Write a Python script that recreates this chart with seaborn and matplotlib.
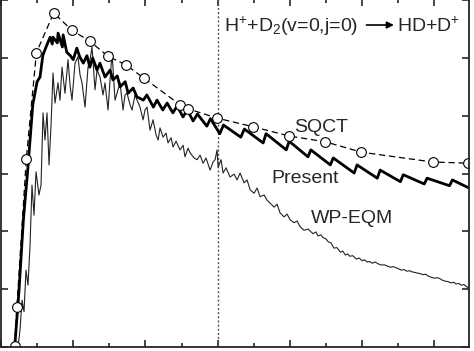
import numpy as np
import pandas as pd
import matplotlib
matplotlib.use("Agg")
import matplotlib.pyplot as plt
import seaborn as sns
from matplotlib.ticker import MultipleLocator

# SQCT points (open circles, dashed)
sqct_x = [0.19, 0.22, 0.35, 0.49, 0.73, 0.98, 1.23, 1.48, 1.73, 1.98, 2.48, 2.59,
          2.99, 3.49, 3.99, 4.49, 4.99, 5.98, 6.47]
sqct_y = [0.02, 0.69, 3.25, 5.09, 5.78, 5.48, 5.29, 5.03, 4.88, 4.65, 4.19, 4.12,
          3.96, 3.81, 3.65, 3.55, 3.37, 3.20, 3.18]

# present calculation (thick line)
present_x = [0.19, 0.25, 0.31, 0.37, 0.44, 0.50, 0.54, 0.58, 0.64, 0.68, 0.71, 0.72,
             0.78, 0.79, 0.85, 0.86, 0.91, 0.96, 1.00, 1.05, 1.09, 1.14, 1.19, 1.23,
             1.27, 1.33, 1.37, 1.44, 1.51, 1.55, 1.61, 1.65, 1.72, 1.76, 1.83, 1.88,
             1.97, 2.02, 2.11, 2.16, 2.24, 2.30, 2.38, 2.44, 2.52, 2.58, 2.66, 2.72,
             2.85, 2.90, 3.03, 3.08, 3.32, 3.37, 3.63, 3.67, 3.95, 3.99, 4.25, 4.29,
             4.56, 4.60, 4.89, 4.93, 5.21, 5.25, 5.53, 5.57, 5.86, 5.90, 6.21, 6.25,
             6.48]
present_y = [0.00, 0.99, 2.20, 3.06, 4.19, 4.59, 4.67, 5.05, 5.24, 5.36, 5.24, 5.36,
             5.26, 5.43, 5.19, 5.40, 5.10, 5.04, 4.97, 5.17, 5.02, 4.91, 5.04, 4.84,
             5.00, 4.79, 4.91, 4.67, 4.79, 4.62, 4.69, 4.50, 4.59, 4.39, 4.48, 4.33,
             4.27, 4.36, 4.15, 4.27, 4.10, 4.22, 4.05, 4.17, 3.98, 4.10, 3.91, 4.03,
             3.82, 3.95, 3.69, 3.84, 3.63, 3.77, 3.53, 3.69, 3.41, 3.56, 3.29, 3.41,
             3.15, 3.27, 3.01, 3.15, 2.92, 3.06, 2.86, 2.98, 2.82, 2.92, 2.79, 2.89,
             2.75]

# WP-EQM (thin noisy line)
wp_x = [0.235, 0.263, 0.291, 0.319, 0.346, 0.374, 0.402, 0.429, 0.457, 0.485, 0.526,
        0.554, 0.582, 0.609, 0.637, 0.665, 0.693, 0.720, 0.748, 0.789, 0.817, 0.845,
        0.886, 0.928, 0.956, 0.983, 1.025, 1.066, 1.094, 1.122, 1.163, 1.205, 1.233,
        1.260, 1.302, 1.330, 1.371, 1.413, 1.440, 1.482, 1.510, 1.537, 1.579, 1.620,
        1.648, 1.690, 1.717, 1.745, 1.787, 1.814, 1.856, 1.884, 1.925, 1.967, 1.994,
        2.022, 2.064, 2.105, 2.147, 2.175, 2.202, 2.244, 2.285, 2.313, 2.355, 2.382,
        2.424, 2.479, 2.521, 2.548, 2.590, 2.618, 2.673, 2.715, 2.756, 2.798, 2.839,
        2.895, 2.936, 2.964, 2.992, 3.006, 3.047, 3.075, 3.116, 3.172, 3.227, 3.269,
        3.310, 3.366, 3.407, 3.449, 3.504, 3.546, 3.587, 3.643, 3.684, 3.726, 3.781,
        3.823, 3.864, 3.920, 3.961, 4.003, 4.058, 4.100, 4.141, 4.197, 4.252, 4.32,
        4.36, 4.39, 4.43, 4.46, 4.50, 4.53, 4.57, 4.61, 4.65, 4.70, 4.73, 4.77, 4.80,
        4.83, 4.87, 4.92, 4.96, 5.00, 5.03, 5.07, 5.10, 5.14, 5.18, 5.22, 5.26, 5.31,
        5.35, 5.39, 5.43, 5.47, 5.51, 5.54, 5.58, 5.62, 5.66, 5.69, 5.73, 5.76, 5.80,
        5.85, 5.88, 5.91, 5.95, 6.00, 6.04, 6.08, 6.12, 6.15, 6.19, 6.23, 6.27, 6.30,
        6.34, 6.37, 6.41, 6.45, 6.48]
wp_y = [0.00, 0.29, 0.81, 0.61, 1.33, 1.07, 1.76, 2.80, 2.28, 3.03, 2.63,
        2.80, 4.05, 3.58, 4.05, 3.15, 3.84, 4.74, 4.22, 4.57, 4.27, 4.84,
        4.39, 4.97, 4.53, 4.27, 4.91, 5.02, 4.71, 4.57, 4.15, 4.84, 4.97,
        5.19, 4.45, 4.79, 4.67, 4.36, 4.57, 4.10, 4.62, 5.09, 4.27, 4.45,
        4.57, 4.10, 4.36, 4.39, 4.19, 4.10, 4.36, 4.27, 4.15, 3.93, 4.10,
        4.15, 3.75, 3.93, 3.67, 3.58, 3.79, 3.63, 3.70, 3.53, 3.62, 3.46,
        3.56, 3.41, 3.49, 3.29, 3.44, 3.36, 3.27, 3.24, 3.32, 3.18, 3.27,
        3.06, 3.20, 3.24, 3.41, 3.11, 3.24, 3.01, 3.10, 2.94, 2.99, 2.89,
        3.01, 2.84, 2.89, 2.72, 2.66, 2.75, 2.60, 2.63, 2.54, 2.49, 2.42,
        2.47, 2.32, 2.25, 2.30, 2.20, 2.15, 2.18, 2.08, 2.02, 2.04, 1.96,
        1.99, 1.92, 1.94, 1.89, 1.87, 1.82, 1.80, 1.71, 1.72, 1.64, 1.66, 1.59, 1.61,
        1.57, 1.58, 1.52, 1.54, 1.49, 1.51, 1.47, 1.48, 1.45, 1.47, 1.44, 1.42, 1.42,
        1.40, 1.38, 1.39, 1.37, 1.35, 1.33, 1.34, 1.31, 1.32, 1.30, 1.29, 1.28, 1.27,
        1.25, 1.26, 1.23, 1.21, 1.19, 1.20, 1.18, 1.15, 1.14, 1.13, 1.11, 1.12, 1.09,
        1.10, 1.07, 1.08, 1.04, 1.02]

vline_x = 3.0

sns.set_style("ticks")
plt.rcParams['font.family'] = ['Liberation Sans', 'DejaVu Sans']
plt.rcParams['mathtext.fontset'] = 'custom'
plt.rcParams['mathtext.rm'] = 'Liberation Sans'
plt.rcParams['mathtext.it'] = 'Liberation Sans:italic'

fig = plt.figure(figsize=(4.74, 3.51), dpi=100)
ax = fig.add_axes([1 / 474, 4 / 351, 468 / 474, 348 / 351])

ax.axvline(vline_x, color='#555555', ls=(0, (1.5, 1.5)), lw=1.0, zorder=1)

sns.lineplot(x=wp_x, y=wp_y, ax=ax, color='#222222', lw=0.8, sort=False,
             estimator=None)
sns.lineplot(x=present_x, y=present_y, ax=ax, color='black', lw=2.0, sort=False,
             estimator=None)
sns.lineplot(x=sqct_x, y=sqct_y, ax=ax, color='black', lw=0.9, sort=False,
             estimator=None, dashes=False, ls=(0, (5, 3)), marker='o', markersize=7,
             markerfacecolor='white', markeredgecolor='black', markeredgewidth=0.8)

ax.set_xlim(0, 6.48)
ax.set_ylim(0, 6.02)
ax.xaxis.set_major_locator(MultipleLocator(1))
ax.xaxis.set_minor_locator(MultipleLocator(0.5))
ax.yaxis.set_major_locator(MultipleLocator(1))
ax.tick_params(which='both', direction='in', top=True, right=True,
               labelbottom=False, labelleft=False, width=1.2)
ax.tick_params(which='major', length=5)
ax.tick_params(which='minor', length=3)
for s in ax.spines.values():
    s.set_linewidth(1.3)

fs = 14
ax.text(3.09, 5.45, r"H$^{+}$+D$_{2}$(v=0,j=0)", fontsize=fs, ha='left', va='baseline')
ax.annotate("", xy=(5.44, 5.57), xytext=(5.06, 5.57),
            arrowprops=dict(arrowstyle='-|>', color='black', lw=1.2,
                            mutation_scale=10, shrinkA=0, shrinkB=0))
ax.text(5.48, 5.45, r"HD+D$^{+}$", fontsize=fs, ha='left', va='baseline')
ax.text(4.06, 3.72, "SQCT", fontsize=fs, ha='left', va='baseline')
ax.text(3.75, 2.84, "Present", fontsize=fs, ha='left', va='baseline')
ax.text(4.29, 2.15, "WP-EQM", fontsize=fs, ha='left', va='baseline')

fig.savefig("out.png", dpi=100)
